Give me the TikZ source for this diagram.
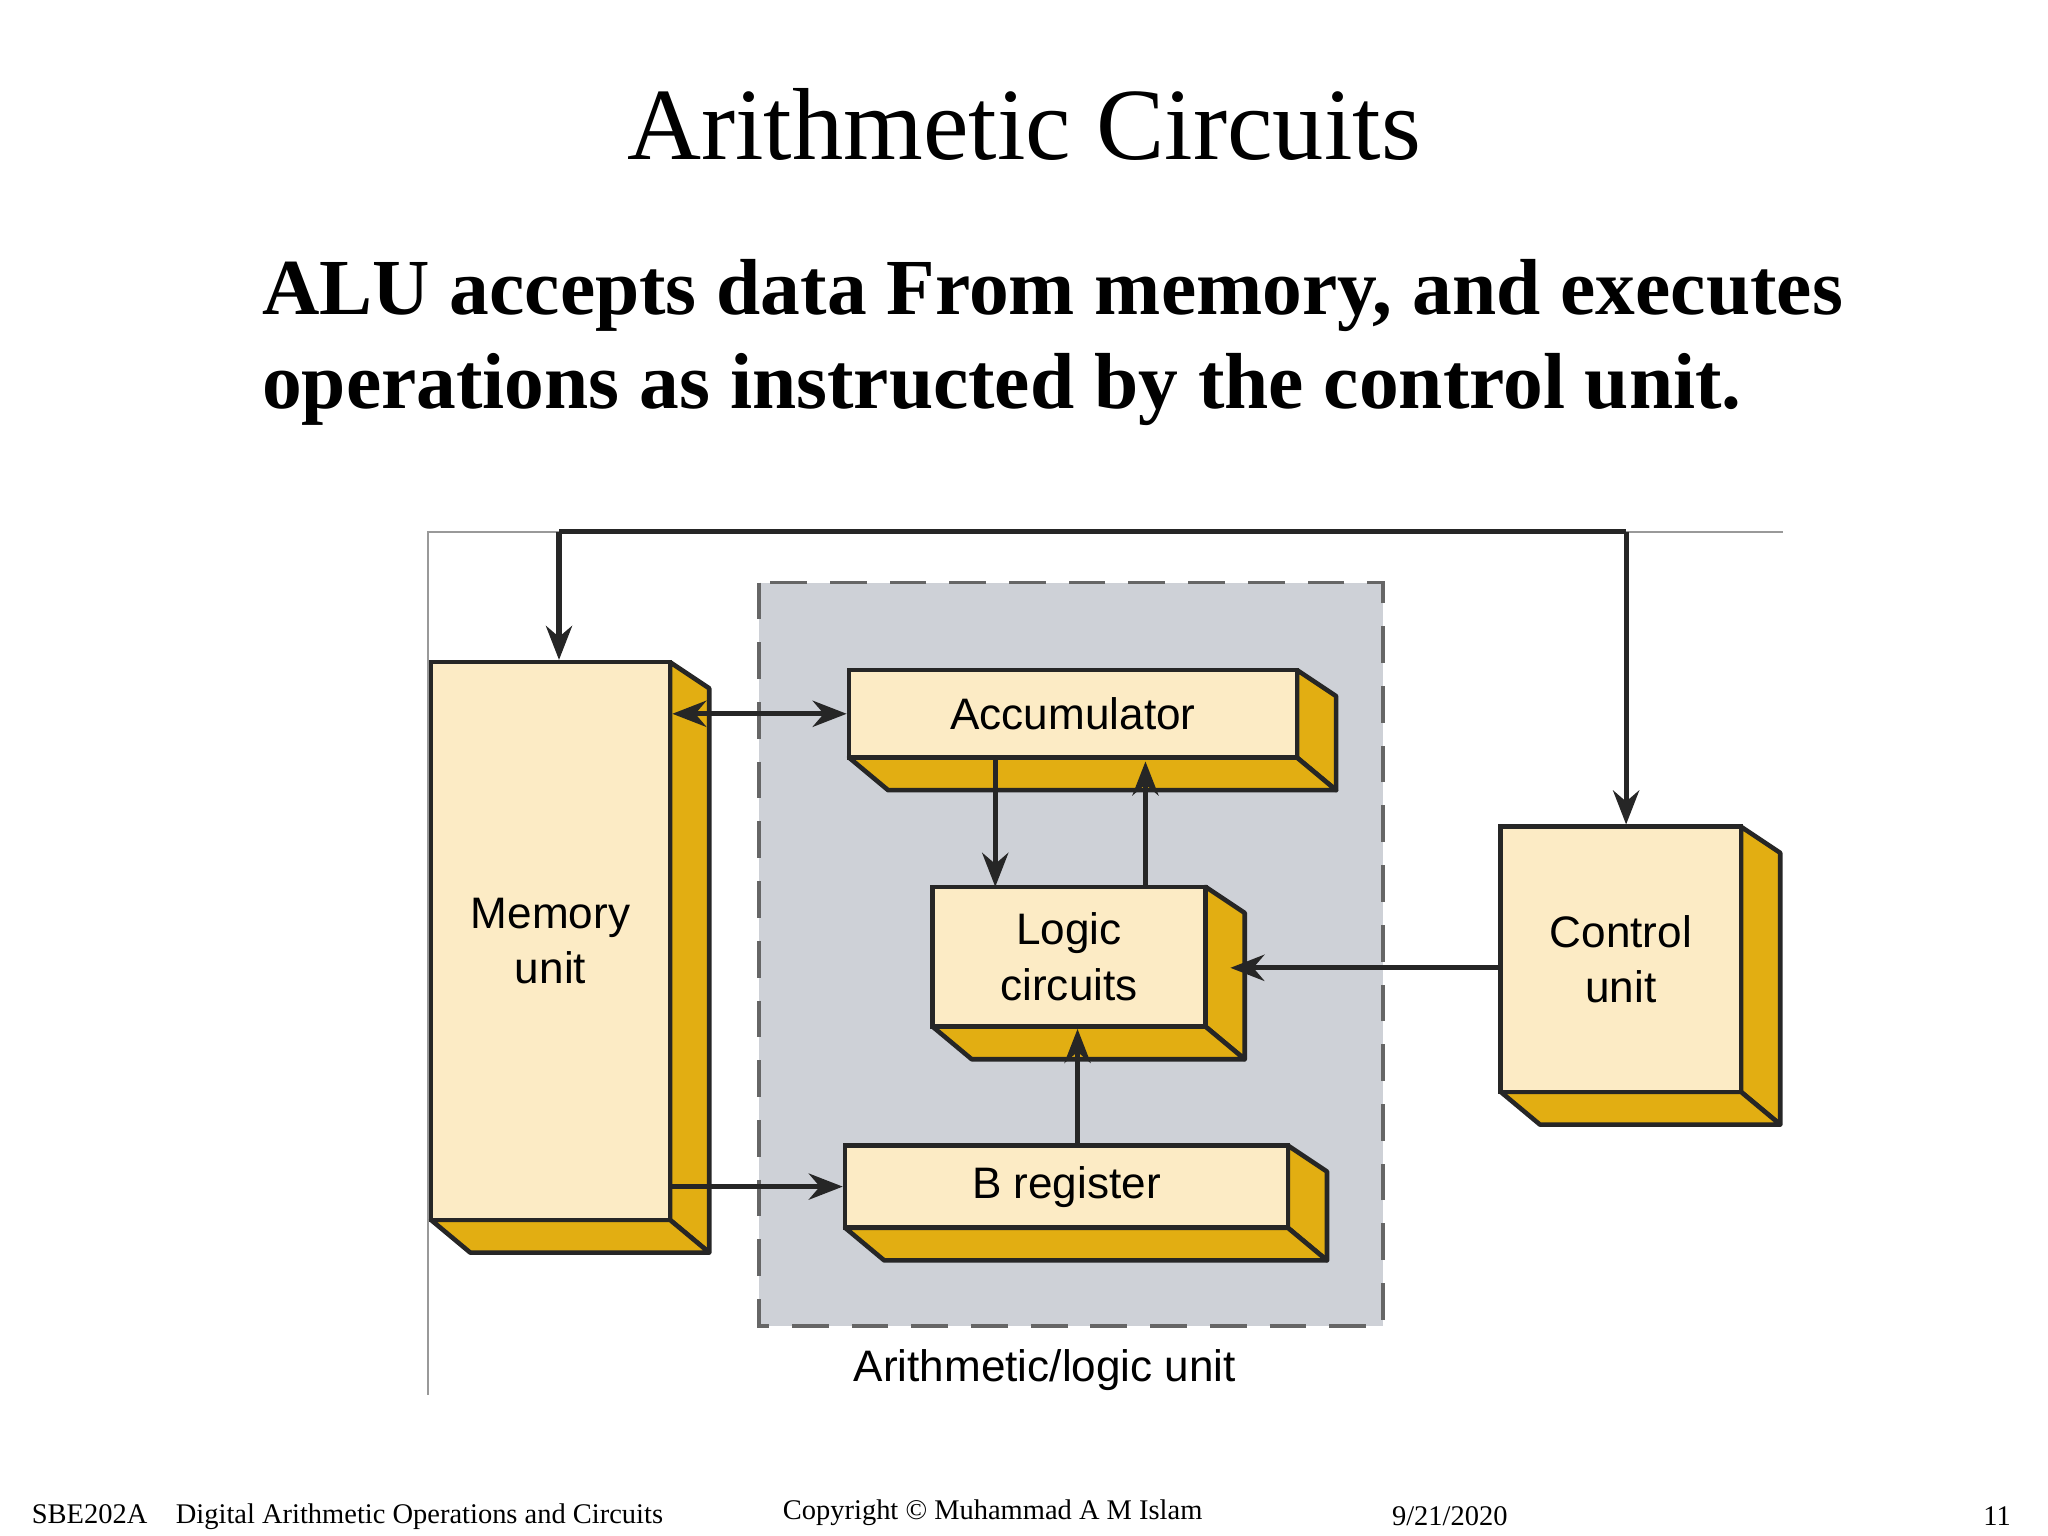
\documentclass[tikz,border=0pt]{standalone}
\usepackage{fontspec}
\setmainfont{Liberation Serif}
\newfontfamily\diagfont{Liberation Sans}
\usetikzlibrary{arrows.meta,positioning}

\definecolor{cream}{HTML}{FCEBC5}
\definecolor{gold}{HTML}{E2AE12}
\definecolor{alugrey}{HTML}{CED1D7}

\tikzset{
  block/.style={draw=black!85,line width=1pt,fill=cream,inner sep=0pt,align=center,
    font=\diagfont\fontsize{9.6}{12}\selectfont},
  depth/.style={draw=black!85,line width=1pt,fill=gold,line join=round},
  tip/.tip={Stealth[length=0.26cm,width=0.2cm]},
  flow/.style={line width=1.1pt,draw=black!85,-tip},
  foot/.style={font=\fontsize{6.2}{8}\selectfont},
}

% front face corners, then label; depth drawn first
\newcommand{\unitblock}[6]{%
  \path[depth] (#4,#3) -- (#4+30,#3+20) -- (#4+30,#5+25) -- (#4,#5) -- cycle;
  \path[depth] (#2,#5) -- (#4,#5) -- (#4+30,#5+25) -- (#2+30,#5+25) -- cycle;
  \node[block,minimum width={(#4-#2)*0.01cm},minimum height={(#5-#3)*0.01cm}]
    (#1) at ({(#2+#4)/2},{(#3+#5)/2}) {#6};
}

\begin{document}
\begin{tikzpicture}[x=0.01cm,y=-0.01cm]
\useasboundingbox (0,0) rectangle (1568,1176);

% Heading
\node (title) at (784,95) {\fontsize{22.3}{28}\selectfont Arithmetic Circuits};
\node[anchor=west,align=left,inner sep=0pt,font=\fontsize{17.3}{20.5}\selectfont\bfseries] (intro) at (200,262)
  {ALU accepts data From memory, and executes\\
   operations as instructed by the control unit.};

% Frame lines
\draw[black!40,line width=0.4pt] (328,1068) -- (328,407) -- (1365,407);

% ALU area
\draw[black!60,dashed,dash pattern=on 8pt off 5pt,line width=0.8pt,fill=alugrey]
  (581,446) rectangle (1059,1015);
\node[font=\diagfont\fontsize{9.6}{12}\selectfont] (alulabel) at (800,1049) {Arithmetic/logic unit};

% Units
\unitblock{mem}{330}{507}{513}{934}{Memory\\unit}
\unitblock{acc}{650}{513}{993}{580}{Accumulator}
\unitblock{logic}{714}{679}{923}{786}{Logic\\circuits}
\unitblock{breg}{647}{877}{986}{940}{B register}
\unitblock{ctrl}{1149}{633}{1333}{836}{Control\\unit}

% Connectors
\coordinate (busL) at (428,407);
\coordinate (busR) at (1245,407);
\draw[line width=1.1pt,black!85] (busL) -- (busR);
\draw[flow] (busL) -- (busL |- mem.north);
\draw[flow] (busR) -- (busR |- ctrl.north);
\draw[flow,tip-tip] (acc.west -| mem.east) -- (acc.west);
\draw[flow] (breg.west -| mem.east) -- (breg.west);
\coordinate (accdown) at (762,679);
\coordinate (accup) at (877,679);
\coordinate (bup) at (825,877);
\draw[flow] (accdown |- acc.south) -- (accdown);
\draw[flow] (accup) -- (877,583);
\draw[flow] (bup) -- (bup |- logic.south);
\coordinate (ctrlin) at (942,741);
\draw[flow] (ctrl.west |- ctrlin) -- (ctrlin);

% Footer
\node[foot,anchor=west] (foot1) at (12,1161) {SBE202A\quad Digital Arithmetic Operations and Circuits};
\node[foot] (foot2) at (760,1158) {Copyright \textcopyright\ Muhammad A M Islam};
\node[foot] (foot3) at (1110,1161) {9/21/2020};
\node[foot,anchor=east] (foot4) at (1552,1161) {11};
\end{tikzpicture}
\end{document}
